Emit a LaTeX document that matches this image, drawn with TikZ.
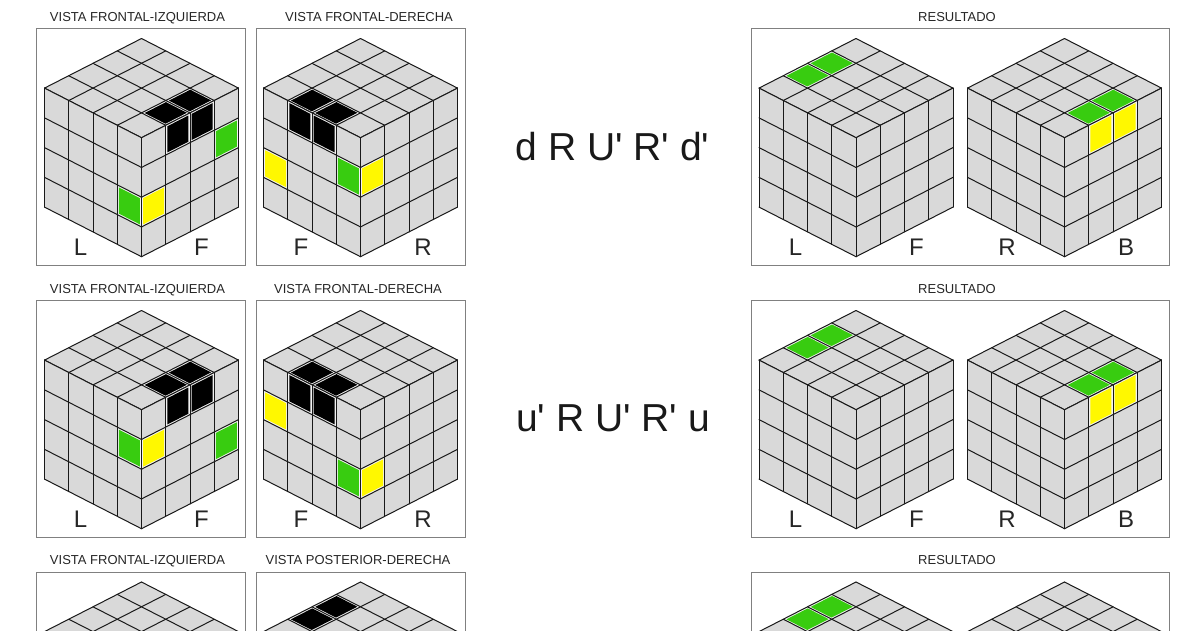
\documentclass[tikz,border=0pt]{standalone}
\usepackage{fontspec}
\setmainfont{Liberation Sans}
\newfontfamily\movefont{Liberation Sans}
\definecolor{facegray}{HTML}{D9D9D9}
\definecolor{boxgray}{HTML}{808080}
\definecolor{halo}{HTML}{F2F2F2}
\definecolor{grn}{HTML}{38CC10}
\definecolor{ylw}{HTML}{FFF800}
\definecolor{blk}{HTML}{000000}
\definecolor{txt}{HTML}{262626}
\tikzset{
  frameline/.style={draw=boxgray,line width=0.9pt},
  gridline/.style={draw=black!90,line width=1pt,line cap=round},
  viewtitle/.style={text=txt,font=\fontsize{13}{15}\selectfont,anchor=base,inner sep=0pt},
  facelabel/.style={text=txt,font=\fontsize{24}{27}\selectfont,anchor=base,inner sep=0pt},
  movetext/.style={text=black!90,font=\movefont\fontsize{39}{44}\selectfont,anchor=base,inner sep=0pt},
}
% one sticker of a face, in the face's own unit coordinates
\newcommand{\st}[3]{%
  \fill[halo] (#1,#2) -- ++(1,0) -- ++(0,1) -- ++(-1,0) -- cycle;
  \fill[#3] ({#1+.07},{#2+.06}) -- ({#1+.93},{#2+.06}) -- ({#1+.93},{#2+.94}) -- ({#1+.07},{#2+.94}) -- cycle;}
\newcommand{\facegrid}[1]{%
  \fill[facegray] (0,0) -- (4,0) -- (4,4) -- (0,4) -- cycle;
  #1
  \foreach \k in {0,...,4}{\draw[gridline] (\k,0) -- (\k,4); \draw[gridline] (0,\k) -- (4,\k);}}
% apex x, apex y, top stickers, left stickers, right stickers
\newcommand{\rubik}[5]{%
  \begin{scope}[shift={(#1,#2)},x={(24.25pt,-12.4pt)},y={(-24.25pt,-12.4pt)}]\facegrid{#3}\end{scope}
  \begin{scope}[shift={(#1-97,#2+49.6)},x={(24.25pt,-12.4pt)},y={(0pt,-29.75pt)}]\facegrid{#4}\end{scope}
  \begin{scope}[shift={(#1,#2+99.2)},x={(24.25pt,12.4pt)},y={(0pt,-29.75pt)}]\facegrid{#5}\end{scope}}
\begin{document}
\begin{tikzpicture}[x=1pt,y=-1pt]
\useasboundingbox (0,0) rectangle (1200,630);
\clip (0,0) rectangle (1200,630);
\fill[white] (0,0) rectangle (1200,630);
% frames
\foreach \fy in {28.5,300.5,572.5}{
  \draw[frameline] (36.5,\fy) rectangle (245.5,\fy+236.5);
  \draw[frameline] (256.5,\fy) rectangle (465.5,\fy+236.5);
  \draw[frameline] (751.5,\fy) rectangle (1169.5,\fy+236.5);
}
% row 1
\rubik{141.5}{38.5}{\st{3}{2}{blk}\st{3}{1}{blk}}{\st{3}{2}{grn}}{\st{1}{0}{blk}\st{2}{0}{blk}\st{3}{1}{grn}\st{0}{2}{ylw}}
\rubik{360.5}{38.5}{\st{1}{3}{blk}\st{2}{3}{blk}}{\st{1}{0}{blk}\st{2}{0}{blk}\st{0}{2}{ylw}\st{3}{1}{grn}}{\st{0}{1}{ylw}}
\rubik{856}{38.5}{\st{0}{2}{grn}\st{0}{1}{grn}}{}{}
\rubik{1064.5}{38.5}{\st{3}{2}{grn}\st{3}{1}{grn}}{}{\st{1}{0}{ylw}\st{2}{0}{ylw}}
% row 2
\rubik{141.5}{310.5}{\st{3}{2}{blk}\st{3}{1}{blk}}{\st{3}{1}{grn}}{\st{1}{0}{blk}\st{2}{0}{blk}\st{3}{2}{grn}\st{0}{1}{ylw}}
\rubik{360.5}{310.5}{\st{1}{3}{blk}\st{2}{3}{blk}}{\st{1}{0}{blk}\st{2}{0}{blk}\st{0}{1}{ylw}\st{3}{2}{grn}}{\st{0}{2}{ylw}}
\rubik{856}{310.5}{\st{0}{2}{grn}\st{0}{1}{grn}}{}{}
\rubik{1064.5}{310.5}{\st{3}{2}{grn}\st{3}{1}{grn}}{}{\st{1}{0}{ylw}\st{2}{0}{ylw}}
% row 3
\rubik{141.5}{582}{}{}{}
\rubik{360.5}{582}{\st{0}{1}{blk}\st{0}{2}{blk}}{}{}
\rubik{856}{582}{\st{0}{2}{grn}\st{0}{1}{grn}}{}{}
\rubik{1064.5}{582}{}{}{}
% titles
\node[viewtitle] (t1a) at (137.5,21) {VISTA FRONTAL-IZQUIERDA};
\node[viewtitle] (t1b) at (369,21) {VISTA FRONTAL-DERECHA};
\node[viewtitle] (t1c) at (957,21) {RESULTADO};
\node[viewtitle] (t2a) at (137.5,293) {VISTA FRONTAL-IZQUIERDA};
\node[viewtitle] (t2b) at (358,293) {VISTA FRONTAL-DERECHA};
\node[viewtitle] (t2c) at (957,293) {RESULTADO};
\node[viewtitle] (t3a) at (137.5,564.5) {VISTA FRONTAL-IZQUIERDA};
\node[viewtitle] (t3b) at (358,564.5) {VISTA POSTERIOR-DERECHA};
\node[viewtitle] (t3c) at (957,564.5) {RESULTADO};
% face letters
\foreach \ly/\r in {255/a,527/b}{
  \node[facelabel] (l1\r) at (80.5,\ly) {L};
  \node[facelabel] (f1\r) at (201.5,\ly) {F};
  \node[facelabel] (f2\r) at (301,\ly) {F};
  \node[facelabel] (r2\r) at (423,\ly) {R};
  \node[facelabel] (l3\r) at (795.5,\ly) {L};
  \node[facelabel] (f3\r) at (916.5,\ly) {F};
  \node[facelabel] (r3\r) at (1007,\ly) {R};
  \node[facelabel] (b3\r) at (1126,\ly) {B};
}
% move sequences
\node[movetext] (m1) at (612.5,160) {d R U' R' d'};
\node[movetext] (m2) at (613,431) {u' R U' R' u};
\end{tikzpicture}
\end{document}
